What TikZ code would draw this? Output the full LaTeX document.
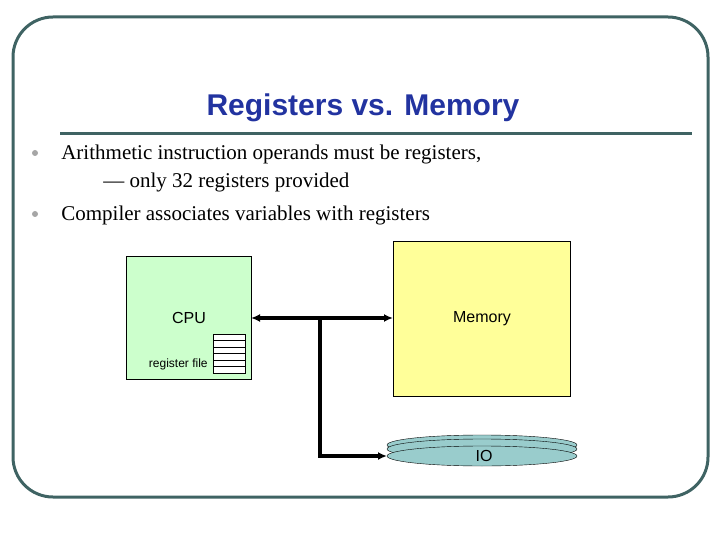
\documentclass[tikz,border=0pt]{standalone}
\usepackage{fontspec}
\setmainfont{Liberation Serif}
\setsansfont{Liberation Sans}
\usetikzlibrary{positioning,arrows.meta,shapes.geometric}
\definecolor{framec}{HTML}{3F6363}
\definecolor{titlec}{HTML}{2233A0}
\definecolor{cpuc}{HTML}{CCFFCC}
\definecolor{memc}{HTML}{FFFF99}
\definecolor{ioc}{HTML}{99CCCC}
\begin{document}
\begin{tikzpicture}[x=1pt,y=-1pt,every node/.style={outer sep=0pt},
		unit/.style={draw,thin,anchor=north west,inner sep=0pt},
		bus/.style={line width=3.5pt,{Latex[length=9pt,width=8pt]}-{Latex[length=9pt,width=8pt]}},
		disk/.style={ellipse,draw,thin,fill=ioc,minimum width=190pt,minimum height=20pt},
		txt/.style={font=\fontsize{21}{24}\selectfont,anchor=base west},
		]
		\useasboundingbox (0,0) rectangle (720,540);
		\draw[framec,line width=3pt,rounded corners=40pt] (13,17) rectangle (708,497);
		\node[font=\sffamily\bfseries\fontsize{30}{34}\selectfont,text=titlec] (title) at (363,108) {Registers vs. Memory};
		\draw[framec,line width=3pt] (60,134) -- (692,134);
		% bullets
		\fill[gray!70] (35,153) circle (3pt);
		\fill[gray!70] (35,214) circle (3pt);
		\node[txt] (b1) at (58,160) {Arithmetic instruction operands must be registers,};
		\node[txt] (b2) at (100,188) {--- only 32 registers provided};
		\node[txt] (b3) at (58,221) {Compiler associates variables with registers};
		% units
		\node[unit,fill=cpuc,minimum width=125pt,minimum height=123pt] (cpu) at (126,256) {};
		\node[font=\sffamily\fontsize{16}{18}\selectfont] (cpul) at (189,318) {CPU};
		\node[unit,fill=memc,minimum width=177pt,minimum height=155pt] (mem) at (393,241) {};
		\node[font=\sffamily\fontsize{16}{18}\selectfont] (meml) at (482,319) {Memory};
		% register file
		\node[unit,fill=white,minimum width=32pt,minimum height=39pt] (rf) at (213,334) {};
		\foreach \i in {1,...,5}
			\draw[thin] (213,334+6.5*\i) -- (245,334+6.5*\i);
		\node[font=\sffamily\fontsize{12}{14}\selectfont,left=2pt of rf.south west,anchor=south east] (rfl) {register file};
		% IO
		\node[disk] (io3) at (482,445) {};
		\node[disk] (io2) at (482,449) {};
		\node[disk] (io) at (482,456) {};
		\node[font=\sffamily\fontsize{16}{18}\selectfont] (iol) at (484,456) {IO};
		% buses
		\coordinate (cpuR) at (251,318);
		\coordinate (memL) at (393,318);
		\coordinate (j) at (320,318);
		\draw[bus] (cpuR) -- (memL);
		\draw[line width=3.5pt,-{Latex[length=9pt,width=8pt]}] (j) |- (io.west);
\end{tikzpicture}
\end{document}
